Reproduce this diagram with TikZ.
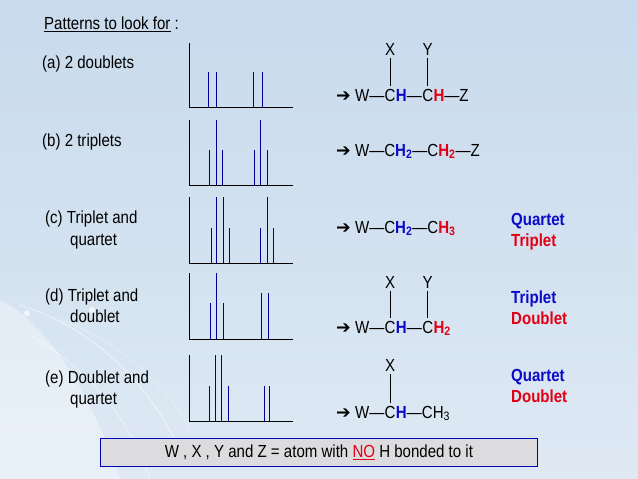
\documentclass[tikz,border=0pt]{standalone}
\usepackage{fontspec}
\setmainfont[FakeStretch=0.86]{Liberation Sans}
\newfontfamily\djfont{DejaVu Sans}
\begin{document}
\begin{tikzpicture}[x=1pt,y=-1pt,
  lbl/.style={anchor=base west,inner sep=0pt,font=\fontsize{17.5}{20}\selectfont},
  fm/.style={anchor=base west,inner sep=0pt,font=\fontsize{17.5}{20}\selectfont},
  tag/.style={anchor=base west,inner sep=0pt,font=\fontsize{17.5}{20}\selectfont\bfseries},
  ax/.style={black,line width=0.8pt},
  pk/.style={draw=blue!60!black,line width=1pt},
  bond/.style={line width=0.8pt}]
\definecolor{bgc}{RGB}{200,218,236}
\definecolor{bl}{RGB}{10,10,200}
\definecolor{rd}{RGB}{225,0,20}
\definecolor{bx}{RGB}{220,220,222}
\useasboundingbox (0,0) rectangle (638,479);
\shade[top color=bgc,bottom color=bgc!60!white] (0,0) rectangle (638,479);
\fill[white,opacity=0.35] (0,300) .. controls (60,330) and (100,420) .. (120,479) -- (0,479) -- cycle;
\draw[white,opacity=0.6,line width=0.8pt] (20,305) .. controls (100,330) and (150,390) .. (175,440);
\draw[white,opacity=0.5,line width=0.8pt] (30,335) .. controls (90,370) and (130,420) .. (150,479);
\draw[white,opacity=0.5] (60,320) .. controls (120,340) and (170,390) .. (190,430);
\fill[white,opacity=0.7] (27,313) circle (3);
\fill[white,opacity=0.7] (92,310) circle (3);

\node[lbl] (title) at (44,30) {\underline{Patterns to look for} :};
\node[lbl] (la) at (42,68) {(a) 2 doublets};
\node[lbl] (lb) at (42,146) {(b) 2 triplets};
\node[lbl] (lc1) at (45,223) {(c) Triplet and};
\node[lbl] (lc2) at (70,245) {quartet};
\node[lbl] (ld1) at (45,301) {(d) Triplet and};
\node[lbl] (ld2) at (70,322) {doublet};
\node[lbl] (le1) at (45,383) {(e) Doublet and};
\node[lbl] (le2) at (70,404) {quartet};

% spectra
\foreach \t/\b in {43/107,120/185,197/263,273/339,355/421}{
  \draw[ax] (189,\t) -- (189,\b) -- (293,\b);}
\foreach \x in {208,216,253,262} \draw[pk] (\x,72) -- (\x,107);
\foreach \x/\h in {209/150,216/120,222/150,254/150,260/120,267/150} \draw[pk] (\x,\h) -- (\x,185);
\foreach \x/\h in {211/228,216/197,223/197,229/228,260/228,267/197,273/228} \draw[pk] (\x,\h) -- (\x,263);
\foreach \x/\h in {210/303,216/273,223/303,261/293,268/293} \draw[pk] (\x,\h) -- (\x,339);
\foreach \x/\h in {209/386,215/355,221/355,228/386,264/386,269/386} \draw[pk] (\x,\h) -- (\x,421);

% formula (a)
\node[fm] (a1) at (336,101) {{\djfont\char"2794} W—};
\node[fm] (a2) at (a1.base east) {C};
\node[fm] (a3) at (a2.base east) {\textcolor{bl}{\bfseries H}—};
\node[fm] (a4) at (a3.base east) {C};
\node[fm] (a5) at (a4.base east) {\textcolor{rd}{\bfseries H}—Z};
\node[fm,anchor=base] (xa) at ([yshift=46pt]a2.base) {X};
\node[fm,anchor=base] (ya) at ([yshift=46pt]a4.base) {Y};
\draw[bond] ([yshift=-3pt]xa.south) -- ([yshift=3pt]a2.north);
\draw[bond] ([yshift=-3pt]ya.south) -- ([yshift=3pt]a4.north);
% (b)
\node[fm] (fb) at (336,156) {{\djfont\char"2794} W—C\textcolor{bl}{\bfseries H\textsubscript{2}}—C\textcolor{rd}{\bfseries H\textsubscript{2}}—Z};
% (c)
\node[fm] (fc) at (336,233) {{\djfont\char"2794} W—C\textcolor{bl}{\bfseries H\textsubscript{2}}—C\textcolor{rd}{\bfseries H\textsubscript{3}}};
% (d)
\node[fm] (d1) at (336,333) {{\djfont\char"2794} W—};
\node[fm] (d2) at (d1.base east) {C};
\node[fm] (d3) at (d2.base east) {\textcolor{bl}{\bfseries H}—};
\node[fm] (d4) at (d3.base east) {C};
\node[fm] (d5) at (d4.base east) {\textcolor{rd}{\bfseries H\textsubscript{2}}};
\node[fm,anchor=base] (xd) at ([yshift=45pt]d2.base) {X};
\node[fm,anchor=base] (yd) at ([yshift=45pt]d4.base) {Y};
\draw[bond] ([yshift=-3pt]xd.south) -- ([yshift=3pt]d2.north);
\draw[bond] ([yshift=-3pt]yd.south) -- ([yshift=3pt]d4.north);
% (e)
\node[fm] (e1) at (336,418) {{\djfont\char"2794} W—};
\node[fm] (e2) at (e1.base east) {C};
\node[fm] (e3) at (e2.base east) {\textcolor{bl}{\bfseries H}—CH\textsubscript{3}};
\node[fm,anchor=base] (xe) at ([yshift=47pt]e2.base) {X};
\draw[bond] ([yshift=-3pt]xe.south) -- ([yshift=3pt]e2.north);

\node[tag,text=bl] at (511,225) {Quartet};
\node[tag,text=rd] at (511,246) {Triplet};
\node[tag,text=bl] at (511,303) {Triplet};
\node[tag,text=rd] at (511,324) {Doublet};
\node[tag,text=bl] at (511,381) {Quartet};
\node[tag,text=rd] at (511,402) {Doublet};

\node[draw=blue!70!black,fill=bx,line width=0.8pt,minimum width=437pt,minimum height=28pt,anchor=north west,inner sep=0pt,font=\fontsize{17.5}{20}\selectfont] (box) at (100,438)
 {W , X , Y and Z = atom with \textcolor{rd}{\underline{NO}} H bonded to it};
\end{tikzpicture}
\end{document}
